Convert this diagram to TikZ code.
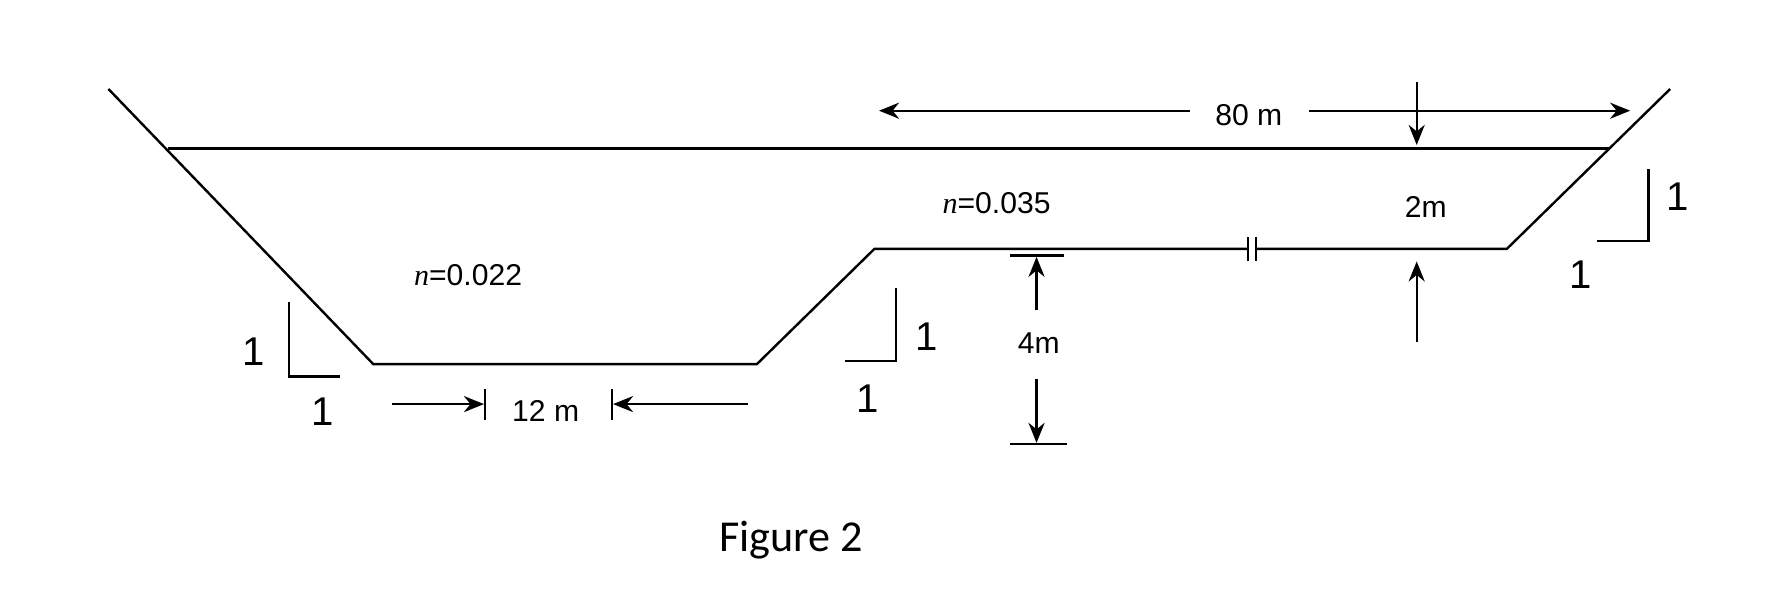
\documentclass[tikz,border=0pt]{standalone}
\usepackage{fontspec}
\setmainfont{Liberation Sans}
\newfontfamily\calib{Carlito}
\newfontfamily\serifn{Liberation Serif}
\usetikzlibrary{arrows.meta}
\begin{document}
\begin{tikzpicture}[x=0.01cm,y=-0.01cm,line width=0.6pt,
  lbl/.style={inner sep=0pt,font=\fontsize{7.5}{9}\selectfont},
  big/.style={inner sep=0pt,font=\fontsize{10}{12}\selectfont},
  arr/.style={-{Stealth[length=5pt,width=4pt]}}]
\useasboundingbox (0,0) rectangle (1568,519.5);
% channel
\coordinate (lt) at (95,78);
\coordinate (lb) at (327,319);
\coordinate (mb) at (663,319);
\coordinate (mt) at (766,218);
\coordinate (b1) at (1093,218);
\coordinate (b2) at (1100,218);
\coordinate (rb) at (1320,218);
\coordinate (rt) at (1463,78);
\draw (lt) -- (lb) -- (mb) -- (mt) -- (b1);
\draw (b2) -- (rb) -- (rt);
\draw (1093,208) -- (1093,229);
\draw (1100,208) -- (1100,229);
\coordinate (ws1) at (147,130);
\coordinate (ws2) at (1410,130);
\draw (ws1) -- (ws2);
% slope marks
\draw (253,265) -- (253,330) -- (298,330);
\node[big] (s1a) at (222,308) {1};
\node[big] (s1b) at (283,361) {1};
\draw (785,252) -- (785,316) -- (740,316);
\node[big] (s2a) at (812,295) {1};
\node[big] (s2b) at (760,349) {1};
\draw (1444,148) -- (1444,211) -- (1399,211);
\node[big] (s3a) at (1470,172) {1};
\node[big] (s3b) at (1385,241) {1};
% 80 m
\node[lbl] (t80) at (1094,101) {80 m};
\coordinate (a80l) at (770,97);
\coordinate (a80r) at (1428,97);
\draw[arr] (1042,97) -- (a80l);
\draw[arr] (1147,97) -- (a80r);
% 2m
\node[lbl] (t2) at (1249,181) {2m};
\draw[arr] (1241,72) -- (1241,127);
\draw[arr] (1241,300) -- (1241,229);
% 4m
\node[lbl] (t4) at (910,301) {4m};
\draw (885,224) -- (932,224);
\draw (885,389) -- (935,389);
\draw[arr] (908,272) -- (908,225);
\draw[arr] (908,332) -- (908,388);
% 12 m
\node[lbl] (t12) at (478,360) {12 m};
\draw (425,341) -- (425,368);
\draw (536,341) -- (536,368);
\draw[arr] (343,354) -- (424,354);
\draw[arr] (655,354) -- (537,354);
% n labels
\node[lbl] (n1) at (410,241) {{\serifn\itshape n}=0.022};
\node[lbl] (n2) at (873,178) {{\serifn\itshape n}=0.035};
% caption
\node[inner sep=0pt,font=\calib\fontsize{11}{13}\selectfont] (fig) at (693,473) {Figure 2};
\end{tikzpicture}
\end{document}
